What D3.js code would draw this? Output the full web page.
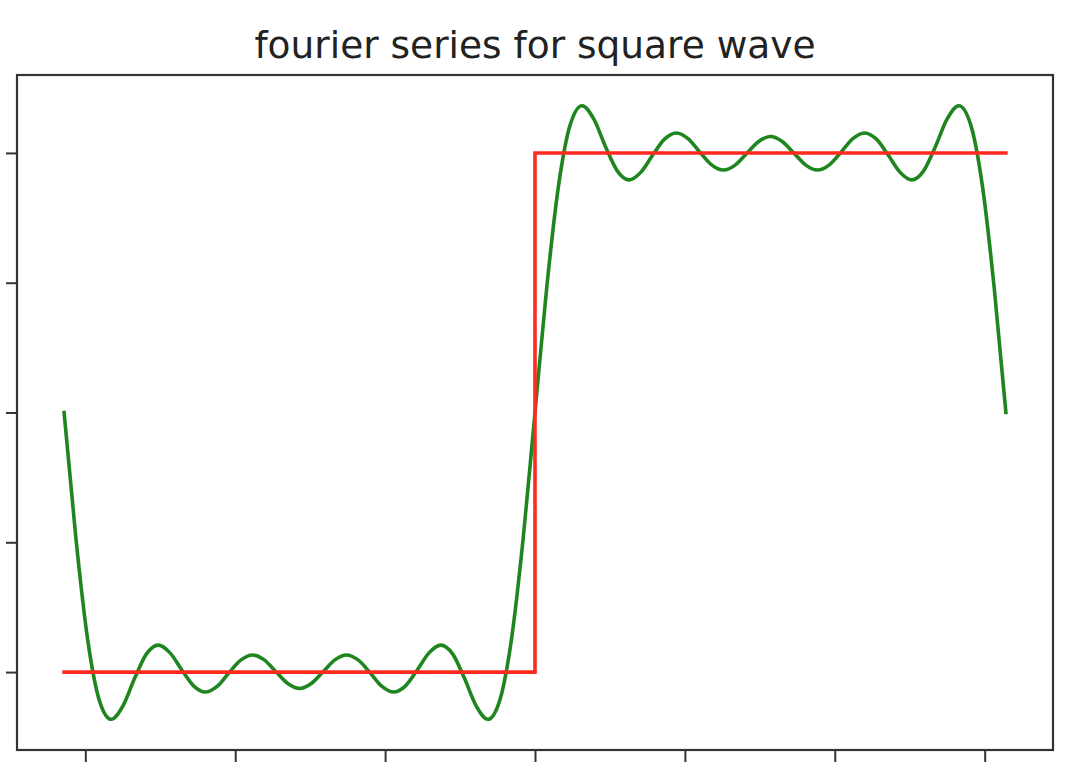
<!DOCTYPE html>
<html>
<head>
<meta charset="utf-8">
<script src="https://cdn.jsdelivr.net/npm/d3@7"></script>
<style>
  body { margin: 0; background: #fff; }
  svg { display: block; }
</style>
</head>
<body>
<div id="chart"></div>
<script>
// chart size
let svgWidth = 1092;
let svgHeight = 770;

let margin = { top: 75, right: 39, bottom: 20, left: 17 };
let width = svgWidth - margin.left - margin.right;
let height = svgHeight - margin.top - margin.bottom;

// data (x in degrees)
let titleText = "fourier series for square wave";

let seriesAngles = [
  -180, -175.5, -171, -166.5, -162, -157.5, -153, -148.5, -144, -139.5,
  -135, -130.5, -126, -121.5, -117, -112.5, -108, -103.5, -99, -94.5,
  -90, -85.5, -81, -76.5, -72, -67.5, -63, -58.5, -54, -49.5,
  -45, -40.5, -36, -31.5, -27, -22.5, -18, -13.5, -9, -4.5,
  0, 4.5, 9, 13.5, 18, 22.5, 27, 31.5, 36, 40.5,
  45, 49.5, 54, 58.5, 63, 67.5, 72, 76.5, 81, 85.5,
  90, 94.5, 99, 103.5, 108, 112.5, 117, 121.5, 126, 130.5,
  135, 139.5, 144, 148.5, 153, 157.5, 162, 166.5, 171, 175.5, 180
];
let seriesValues = [
  0, -0.483, -0.874, -1.110, -1.182, -1.130, -1.023, -0.930, -0.896, -0.926,
  -0.992, -1.053, -1.077, -1.055, -1.003, -0.954, -0.934, -0.953, -0.999, -1.044,
  -1.063, -1.044, -0.999, -0.953, -0.934, -0.954, -1.003, -1.055, -1.077, -1.053,
  -0.992, -0.926, -0.896, -0.930, -1.023, -1.130, -1.182, -1.110, -0.874, -0.483,
  0, 0.483, 0.874, 1.110, 1.182, 1.130, 1.023, 0.930, 0.896, 0.926,
  0.992, 1.053, 1.077, 1.055, 1.003, 0.954, 0.934, 0.953, 0.999, 1.044,
  1.063, 1.044, 0.999, 0.953, 0.934, 0.954, 1.003, 1.055, 1.077, 1.053,
  0.992, 0.926, 0.896, 0.930, 1.023, 1.130, 1.182, 1.110, 0.874, 0.483, 0
];

let squareAngles = [-180, 0, 0, 180];
let squareValues = [-1, -1, 1, 1];

let xTicks = [-3, -2, -1, 0, 1, 2, 3];
let yTicks = [-1, -0.5, 0, 0.5, 1];

let rad = (deg) => deg * Math.PI / 180;

let seriesData = seriesAngles.map((a, i) => ({ x: rad(a), y: seriesValues[i] }));
let squareData = squareAngles.map((a, i) => ({ x: rad(a), y: squareValues[i] }));

let svg = d3.select("#chart").append("svg")
  .attr("width", svgWidth)
  .attr("height", svgHeight);

let chartGroup = svg.append("g")
  .attr("transform", `translate(${margin.left}, ${margin.top})`);

// matplotlib style 5% padding on the data range
let xExt = d3.extent(seriesData, d => d.x);
let yExt = d3.extent(seriesData, d => d.y);
let xPad = (xExt[1] - xExt[0]) * 0.05;
let yPad = (yExt[1] - yExt[0]) * 0.05;

let xLinearScale = d3.scaleLinear()
  .domain([xExt[0] - xPad, xExt[1] + xPad])
  .range([0, width]);

let yLinearScale = d3.scaleLinear()
  .domain([yExt[0] - yPad, yExt[1] + yPad])
  .range([height, 0]);

// lines
let line = d3.line()
  .x(d => xLinearScale(d.x))
  .y(d => yLinearScale(d.y));

chartGroup.append("path")
  .datum(seriesData)
  .attr("fill", "none")
  .attr("stroke", "#1f861f")
  .attr("stroke-width", 3.6)
  .attr("stroke-linecap", "square")
  .attr("stroke-linejoin", "round")
  .attr("d", line.curve(d3.curveMonotoneX));

chartGroup.append("path")
  .datum(squareData)
  .attr("fill", "none")
  .attr("stroke", "#ff2a1f")
  .attr("stroke-width", 3.6)
  .attr("stroke-linecap", "square")
  .attr("d", line.curve(d3.curveLinear));

// axes: ticks only, no labels
let bottomAxis = d3.axisBottom(xLinearScale).tickValues(xTicks).tickSize(12).tickFormat("");
let leftAxis = d3.axisLeft(yLinearScale).tickValues(yTicks).tickSize(11).tickFormat("");

let xAxis = chartGroup.append("g")
  .attr("transform", `translate(0, ${height})`)
  .call(bottomAxis);
let yAxis = chartGroup.append("g").call(leftAxis);

[xAxis, yAxis].forEach(function(ax) {
  ax.select(".domain").remove();
  ax.selectAll(".tick line").attr("stroke", "#333").attr("stroke-width", 2);
});

// frame
chartGroup.append("rect")
  .attr("width", width)
  .attr("height", height)
  .attr("fill", "none")
  .attr("stroke", "#333")
  .attr("stroke-width", 2.2);

// title
svg.append("text")
  .attr("x", margin.left + width / 2)
  .attr("y", 58)
  .attr("text-anchor", "middle")
  .attr("font-family", "DejaVu Sans")
  .attr("font-size", "37.5px")
  .attr("fill", "#222")
  .text(titleText);
</script>
</body>
</html>
